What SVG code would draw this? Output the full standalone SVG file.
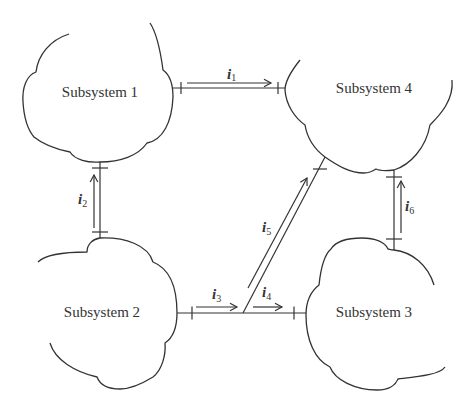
<svg xmlns="http://www.w3.org/2000/svg" width="474" height="413" viewBox="0 0 474 413">
<defs>
<style>
.cloud{fill:none;stroke:#333;stroke-width:1.3;stroke-linejoin:round}
.ln{fill:none;stroke:#333;stroke-width:1.2}
.arr{fill:none;stroke:#333;stroke-width:1.2;marker-end:url(#ah)}
.name{font-family:"Liberation Serif",serif;font-size:15px;fill:#333;text-anchor:middle}
.lbl{font-family:"Liberation Serif",serif;font-size:15px;fill:#333;font-style:italic;font-weight:bold}
.sub{font-size:10px;font-style:normal;font-weight:normal}
</style>
<marker id="ah" markerUnits="userSpaceOnUse" markerWidth="12" markerHeight="12" refX="0" refY="0" viewBox="-8 -6 10 12" orient="auto">
<path d="M-7,-3.8 L0,0 L-7,3.8" fill="none" stroke="#333" stroke-width="1.2"/>
</marker>
</defs>
<rect width="474" height="413" fill="#fff"/>
<g id="subsystem1">
<path class="cloud" d="M69,34 C50,40 38,55 36,72 C27,75 22,87 23,102 C24,118 28,130 34,137 C45,146 60,150 70,152 C75,160 88,163 100,162 C120,162 138,156 147,143 C163,140 172,122 173,97 C173,85 170,75 163,70 C161,55 158,35 150,23"/>
<text class="name" x="100" y="97">Subsystem 1</text>
</g>
<g id="subsystem4">
<path class="cloud" d="M300,60 C292,70 285,80 285,90 C286,105 295,118 305,125 C307,137 313,148 325,157 C338,166 350,173 364,173 C370,173 373,171 376,169 C380,171 385,171 394,170 C410,165 426,148 430,125 C440,115 454,100 452,80"/>
<text class="name" x="374" y="93">Subsystem 4</text>
</g>
<g id="subsystem2">
<path class="cloud" d="M38,262 C45,255 65,252 87,252 C87,244 93,239 100,238 C125,237 148,245 153,262 C168,268 177,285 177,313 C177,325 174,337 165,343 C166,355 162,370 153,377 C140,385 130,389 120,389 C108,389 100,385 97,377 C75,372 55,360 50,343"/>
<text class="name" x="102" y="317">Subsystem 2</text>
</g>
<g id="subsystem3">
<path class="cloud" d="M434,285 C428,265 412,252 394,250 C391,250 389,249 388,249 C385,242 375,238 362,238 C348,238 336,241 331,249 C325,254 321,266 319,285 C310,292 306,303 306,315 C306,340 315,360 330,367 C335,380 355,390 377,390 C390,390 396,384 398,379 C415,377 440,375 445,367"/>
<text class="name" x="374" y="317">Subsystem 3</text>
</g>
<g id="connectors">
<line class="ln" x1="173" y1="88" x2="285" y2="88"/>
<line class="ln" x1="181" y1="82" x2="181" y2="94"/>
<line class="ln" x1="278" y1="82" x2="278" y2="94"/>
<line class="arr" x1="187" y1="83" x2="271" y2="83"/>
<text class="lbl" x="227" y="79">i<tspan class="sub" dy="2">1</tspan></text>
<line class="ln" x1="100" y1="162" x2="100" y2="238"/>
<line class="ln" x1="92" y1="168" x2="108" y2="168"/>
<line class="ln" x1="92" y1="232" x2="108" y2="232"/>
<line class="arr" x1="94" y1="228" x2="94" y2="175"/>
<text class="lbl" x="78" y="204">i<tspan class="sub" dy="3">2</tspan></text>
<line class="ln" x1="177" y1="313" x2="306" y2="313"/>
<line class="ln" x1="192" y1="306.5" x2="192" y2="319.5"/>
<line class="ln" x1="294" y1="306.5" x2="294" y2="319.5"/>
<line class="arr" x1="196" y1="307" x2="237" y2="307"/>
<text class="lbl" x="212" y="299">i<tspan class="sub" dy="3">3</tspan></text>
<line class="arr" x1="253" y1="307" x2="282" y2="307"/>
<text class="lbl" x="262" y="297">i<tspan class="sub" dy="3">4</tspan></text>
<line class="ln" x1="243" y1="313" x2="325" y2="157"/>
<line class="ln" x1="313" y1="169" x2="327" y2="169"/>
<line class="arr" x1="248" y1="288" x2="307" y2="178"/>
<text class="lbl" x="262" y="232">i<tspan class="sub" dy="3">5</tspan></text>
<line class="ln" x1="394" y1="170" x2="394" y2="250"/>
<line class="ln" x1="386" y1="177" x2="402" y2="177"/>
<line class="ln" x1="386" y1="239" x2="402" y2="239"/>
<line class="arr" x1="401" y1="233" x2="401" y2="181"/>
<text class="lbl" x="405" y="211">i<tspan class="sub" dy="3">6</tspan></text>
</g>
</svg>
